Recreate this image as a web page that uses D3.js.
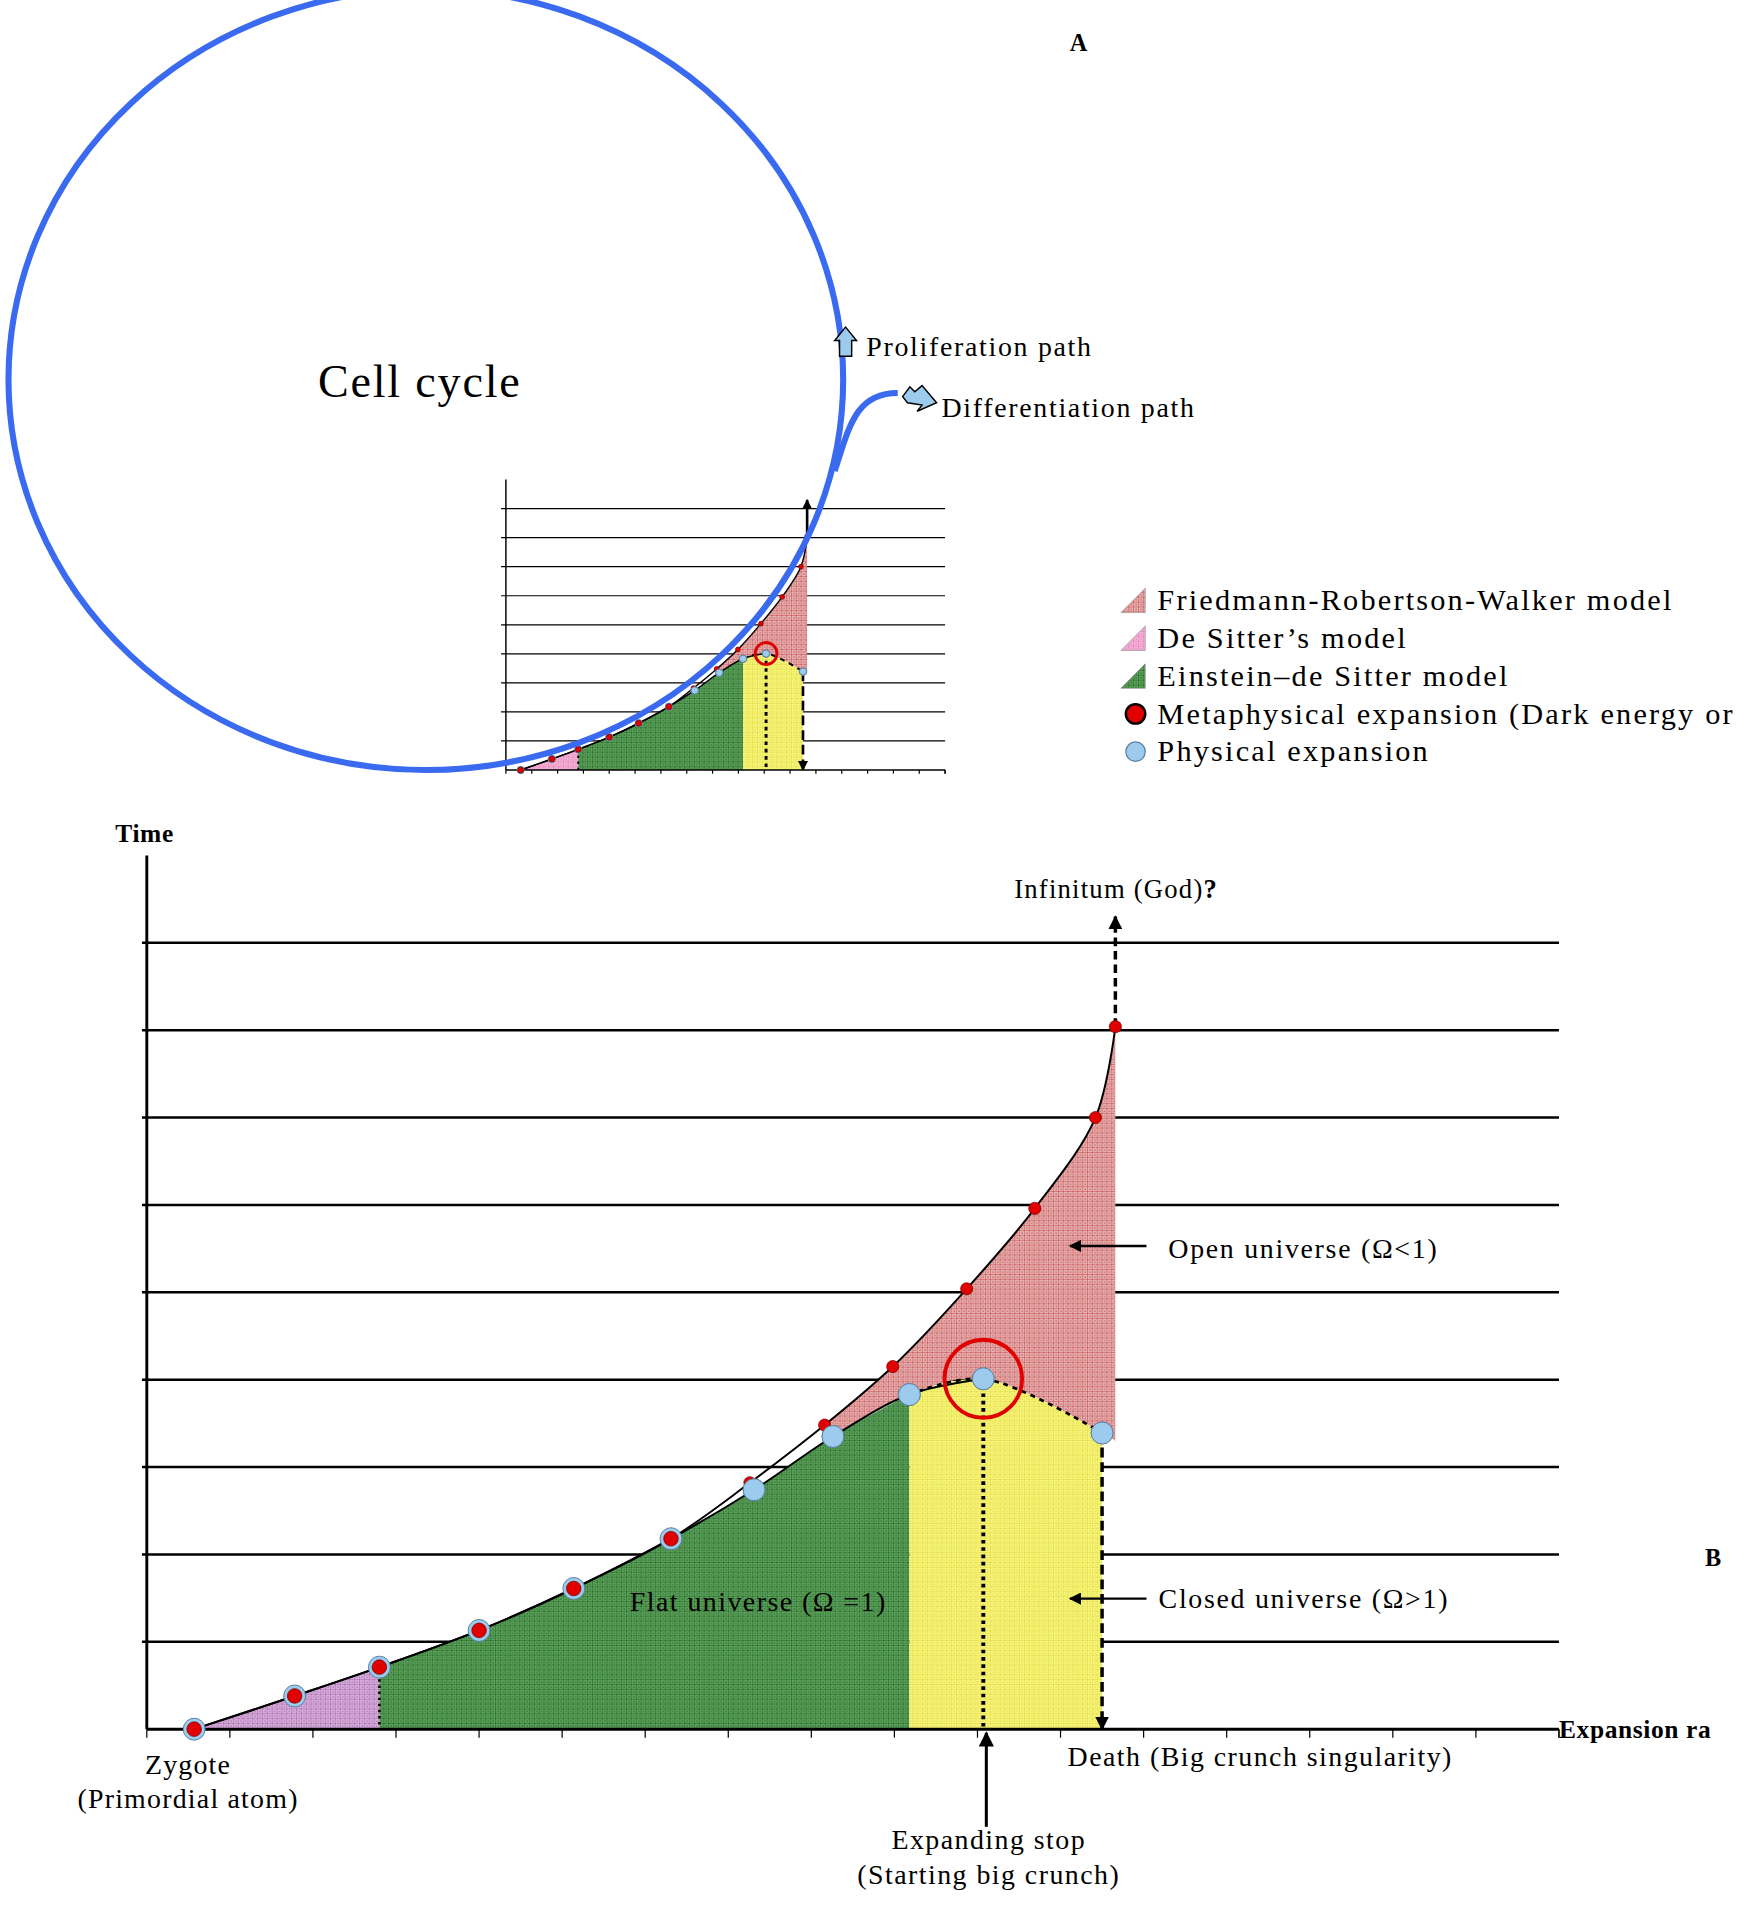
<!DOCTYPE html>
<html><head><meta charset="utf-8">
<script src="https://cdn.jsdelivr.net/npm/d3@7"></script>
<style>body{margin:0;background:#fff}</style></head>
<body><svg id="c" width="1747" height="1911" viewBox="0 0 1440 1566" preserveAspectRatio="none"></svg>
<script>
const redPts=[[0.57,0],[1.78,0.38],[2.8,0.71],[4.0,1.13],[5.14,1.61],[6.31,2.18],[7.26,2.82],[8.16,3.48],[8.98,4.15],[9.87,5.04],[10.69,5.96],[11.42,7.0],[11.66,8.04]];
const bluePts=[[0.57,0],[1.78,0.38],[2.8,0.71],[4.0,1.13],[5.14,1.61],[6.31,2.18],[7.31,2.74],[8.26,3.35],[9.18,3.83],[10.07,4.01],[11.5,3.39]];
const xTicks=d3.range(0,18);
const yTicks=d3.range(1,11);
const legendItems=["Friedmann-Robertson-Walker model","De Sitter\u2019s model","Einstein\u2013de Sitter model","Metaphysical expansion (Dark energy or","Physical expansion"];

const svg=d3.select("#c");
const defs=svg.append("defs");
function pat(id,bg,fg,s){const p=defs.append("pattern").attr("id",id).attr("width",s).attr("height",s).attr("patternUnits","userSpaceOnUse");
 p.append("rect").attr("width",s).attr("height",s).attr("fill",bg);
 p.append("path").attr("d",`M0,0H${s}M0,0V${s}`).attr("stroke",fg).attr("stroke-width",0.8);
 p.append("rect").attr("x",s/2).attr("y",s/2).attr("width",1).attr("height",1).attr("fill",fg);}
pat("pRed","#e7b3b3","#c04040",4);pat("pGreen","#5fa05f","#156015",4);pat("pYel","#f7f77a","#e0d040",4);pat("pPur","#d9b0dd","#9a5aa0",4);pat("pPink","#f4b6d8","#e070b0",4);
const mk=(id,w)=>{defs.append("marker").attr("id",id).attr("viewBox","0 0 10 10").attr("refX",9).attr("refY",5).attr("markerWidth",w).attr("markerHeight",w).attr("orient","auto-start-reverse").append("path").attr("d","M0,0L10,5L0,10z").attr("fill","#000");};
mk("ar",4);mk("arS",5);

function chart(x,y,o){
 const g=svg.append("g");
 const ln=d3.line().x(d=>x(d[0])).y(d=>y(d[1])).curve(d3.curveCatmullRom.alpha(0.5));
 const ar=d3.area().x(d=>x(d[0])).y0(y(0)).y1(d=>y(d[1])).curve(d3.curveCatmullRom.alpha(0.5));
 g.selectAll(".gl").data(yTicks.slice(0,9)).join("line").attr("x1",x(0)-4).attr("x2",x(17)).attr("y1",d=>y(d)).attr("y2",d=>y(d)).attr("stroke","#000").attr("stroke-width",o.gw);
 const up=ln(redPts.slice(7)),lowRev=ln(bluePts.slice(7).reverse()).replace(/^M/,"L");
 g.append("path").attr("d",up+`L${x(11.66)},${y(3.3)}`+lowRev+"Z").attr("fill","url(#pRed)");
 g.append("path").attr("d",ar(redPts.slice(0,3))).attr("fill",o.pink?"url(#pPink)":"url(#pPur)");
 g.append("path").attr("d",ar(bluePts.slice(2,9))).attr("fill","url(#pGreen)");
 g.append("path").attr("d",ar(bluePts.slice(8))).attr("fill","url(#pYel)");
 g.append("line").attr("x1",x(0)).attr("x2",x(0)).attr("y1",y(10)).attr("y2",y(0)).attr("stroke","#000").attr("stroke-width",o.gw*1.2);
 g.append("line").attr("x1",x(0)).attr("x2",x(17)).attr("y1",y(0)).attr("y2",y(0)).attr("stroke","#000").attr("stroke-width",o.gw*1.2);
 g.selectAll(".xt").data(xTicks.concat([17])).join("line").attr("x1",d=>x(d)).attr("x2",d=>x(d)).attr("y1",y(0)).attr("y2",y(0)+o.tk).attr("stroke","#000");
 g.append("path").attr("d",ln(redPts)).attr("fill","none").attr("stroke","#000").attr("stroke-width",o.lw);
 g.append("path").attr("d",ln(bluePts.slice(0,10))).attr("fill","none").attr("stroke","#000").attr("stroke-width",o.lw);
 g.append("path").attr("d",ln(bluePts.slice(8))).attr("fill","none").attr("stroke","#000").attr("stroke-width",o.lw*1.4).attr("stroke-dasharray","4,4");
 g.append("line").attr("x1",x(2.8)).attr("x2",x(2.8)).attr("y1",y(0.71)).attr("y2",y(0)).attr("stroke","#000").attr("stroke-width",o.lw*1.3).attr("stroke-dasharray","2,3");
 g.append("line").attr("x1",x(10.07)).attr("x2",x(10.07)).attr("y1",y(4.01)).attr("y2",y(0)).attr("stroke","#000").attr("stroke-width",o.lw*2).attr("stroke-dasharray","3,3");
 g.append("line").attr("x1",x(11.5)).attr("x2",x(11.5)).attr("y1",y(3.39)).attr("y2",y(0)).attr("stroke","#000").attr("stroke-width",o.lw*1.8).attr("stroke-dasharray","8,4").attr("marker-end","url(#ar)");
 g.append("line").attr("x1",x(11.66)).attr("x2",x(11.66)).attr("y1",y(8.04)).attr("y2",y(9.3)).attr("stroke","#000").attr("stroke-width",o.lw*1.8).attr("stroke-dasharray",o.pink?"0":"7,4").attr("marker-end","url(#ar)");
 g.selectAll(".bp").data(bluePts).join("circle").attr("cx",d=>x(d[0])).attr("cy",d=>y(d[1])).attr("r",o.rb).attr("fill","#9ccbee").attr("stroke","#5a7fa0").attr("stroke-width",0.8);
 g.selectAll(".rp").data(redPts).join("circle").attr("cx",d=>x(d[0])).attr("cy",d=>y(d[1])).attr("r",(d,i)=>i<6?o.rr*1.2:o.rr).attr("fill","#e00000").attr("stroke","#700").attr("stroke-width",0.6);
 g.selectAll(".bp2").data(bluePts.slice(6)).join("circle").attr("cx",d=>x(d[0])).attr("cy",d=>y(d[1])).attr("r",o.rb).attr("fill","#9ccbee").attr("stroke","#5a7fa0").attr("stroke-width",0.8);
 g.append("circle").attr("cx",x(10.07)).attr("cy",y(4.01)).attr("r",o.rc).attr("fill","none").attr("stroke","#e00000").attr("stroke-width",o.lw*2);
 return g;
}
const xB=d3.scaleLinear().domain([0,17]).range([121,1285]);
const yB=d3.scaleLinear().domain([0,10]).range([1417,701]);
chart(xB,yB,{gw:2,lw:1.6,tk:7,rb:9,rr:5,rc:32});
const xA=d3.scaleLinear().domain([0,17]).range([417,779]);
const yA=d3.scaleLinear().domain([0,10]).range([631,393]);
chart(xA,yA,{gw:1,lw:1.2,tk:3,rb:3,rr:2,rc:9,pink:true});

svg.append("ellipse").attr("cx",351).attr("cy",311).attr("rx",344).attr("ry",320).attr("fill","none").attr("stroke","#3a6af0").attr("stroke-width",5);
svg.append("path").attr("d","M688,386C700,350 705,322 740,322").attr("fill","none").attr("stroke","#3a6af0").attr("stroke-width",5);
svg.append("path").attr("d","M692,292V279H688L697,268L706,279H702V292Z").attr("fill","#9ccbee").attr("stroke","#000").attr("stroke-width",1.2);
svg.append("path").attr("d","M744,325L750,317L754,321L760,316L772,330L756,337L760,332L748,330Z").attr("fill","#9ccbee").attr("stroke","#000").attr("stroke-width",1.2);

const serif="Liberation Serif, Times New Roman, serif";
function t(x,y,s,size,anchor,weight,ls){svg.append("text").attr("x",x).attr("y",y).text(s).attr("font-family",serif).attr("font-size",size).attr("text-anchor",anchor||"start").attr("font-weight",weight||"normal").attr("letter-spacing",ls||0);}
t(346,325,"Cell cycle",38,"middle","normal",1.5);
t(714,292,"Proliferation path",23,"start","normal",1.4);
t(776,342,"Differentiation path",23,"start","normal",1.4);
t(889,42,"A",20,"middle","bold");
t(1412,1283,"B",20,"middle","bold");
t(95,690,"Time",21,"start","bold",0.5);
t(1285,1424,"Expansion ra",21,"start","bold",0.5);
const inf=svg.append("text").attr("x",920).attr("y",736).attr("font-family",serif).attr("font-size",22).attr("letter-spacing",1).attr("text-anchor","middle");
inf.append("tspan").text("Infinitum (God)");inf.append("tspan").attr("font-weight","bold").text("?");
t(963,1031,"Open universe (\u03a9<1)",23,"start","normal",1.4);
t(955,1318,"Closed universe (\u03a9>1)",23,"start","normal",1.4);
t(625,1320,"Flat universe (\u03a9 =1)",23,"middle","normal",1.2);
t(155,1454,"Zygote",23,"middle","normal",1);
t(155,1482,"(Primordial atom)",23,"middle","normal",1);
t(880,1447,"Death (Big crunch singularity)",23,"start","normal",1.2);
t(815,1515,"Expanding stop",23,"middle","normal",1.2);
t(815,1544,"(Starting big crunch)",23,"middle","normal",1.2);
[1021,1310].forEach(yy=>svg.append("line").attr("x1",945).attr("x2",882).attr("y1",yy).attr("y2",yy).attr("stroke","#000").attr("stroke-width",2).attr("marker-end","url(#arS)"));
svg.append("line").attr("x1",813).attr("x2",813).attr("y1",1497).attr("y2",1420).attr("stroke","#000").attr("stroke-width",2.5).attr("marker-end","url(#arS)");

const lg=svg.append("g").attr("transform","translate(922,493)");
legendItems.forEach((s,i)=>{const yy=i*31;
 if(i<3){lg.append("path").attr("d",`M2,${yy+9}L22,${yy-11}V${yy+9}Z`).attr("fill",["url(#pRed)","url(#pPink)","url(#pGreen)"][i]).attr("stroke","#888").attr("stroke-width",0.5);}
 else lg.append("circle").attr("cx",14).attr("cy",yy-1).attr("r",8).attr("fill",i==3?"#e00000":"#9ccbee").attr("stroke",i==3?"#000":"#5a7fa0").attr("stroke-width",i==3?2:1);
 lg.append("text").attr("x",32).attr("y",yy+7).text(s).attr("font-family",serif).attr("font-size",25).attr("letter-spacing",1.8);
});
</script></body></html>
